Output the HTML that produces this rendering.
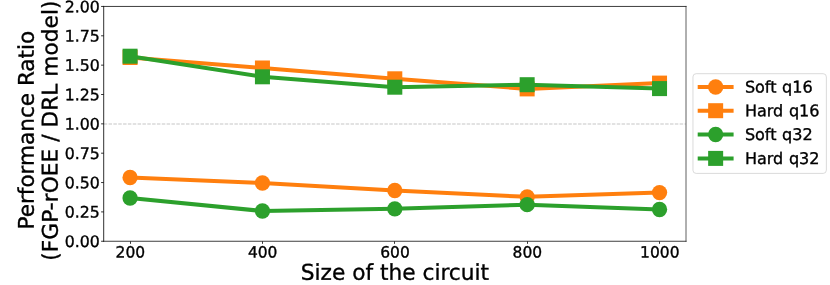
<!DOCTYPE html>
<html><head><meta charset="utf-8"><title>Performance Ratio</title>
<style>html,body{margin:0;padding:0;background:#fff;}svg{display:block;}text{font-family:"DejaVu Sans","Liberation Sans",sans-serif;fill:#000;stroke:#000;stroke-width:0.35px;}</style></head><body>
<svg width="830" height="285" viewBox="0 0 830 285">
<rect width="830" height="285" fill="#fff"/>
<line x1="103.7" x2="686.0" y1="124.0" y2="124.0" stroke="#c6c6c6" stroke-width="1.1" stroke-dasharray="3.5 1.34"/>
<clipPath id="c"><rect x="103.7" y="6.45" width="582.3" height="234.8"/></clipPath>
<g clip-path="url(#c)">
<polyline points="130.1,177.5 262.4,183.0 394.8,190.5 527.2,196.8 659.5,192.6" fill="none" stroke="#ff7f0e" stroke-width="4" stroke-linejoin="round" stroke-linecap="butt"/>
<circle cx="130.07" cy="177.50" r="7.65" fill="#ff7f0e"/>
<circle cx="262.44" cy="183.00" r="7.65" fill="#ff7f0e"/>
<circle cx="394.80" cy="190.50" r="7.65" fill="#ff7f0e"/>
<circle cx="527.16" cy="196.85" r="7.65" fill="#ff7f0e"/>
<circle cx="659.53" cy="192.60" r="7.65" fill="#ff7f0e"/>
<polyline points="130.1,57.5 262.4,68.0 394.8,78.8 527.2,88.9 659.5,83.1" fill="none" stroke="#ff7f0e" stroke-width="4" stroke-linejoin="round" stroke-linecap="butt"/>
<rect x="122.57" y="50.00" width="15.0" height="15.0" fill="#ff7f0e"/>
<rect x="254.94" y="60.50" width="15.0" height="15.0" fill="#ff7f0e"/>
<rect x="387.30" y="71.30" width="15.0" height="15.0" fill="#ff7f0e"/>
<rect x="519.66" y="81.40" width="15.0" height="15.0" fill="#ff7f0e"/>
<rect x="652.03" y="75.60" width="15.0" height="15.0" fill="#ff7f0e"/>
<polyline points="130.1,198.0 262.4,211.0 394.8,208.8 527.2,204.7 659.5,209.5" fill="none" stroke="#2ca02c" stroke-width="4" stroke-linejoin="round" stroke-linecap="butt"/>
<circle cx="130.07" cy="198.00" r="7.65" fill="#2ca02c"/>
<circle cx="262.44" cy="211.00" r="7.65" fill="#2ca02c"/>
<circle cx="394.80" cy="208.80" r="7.65" fill="#2ca02c"/>
<circle cx="527.16" cy="204.70" r="7.65" fill="#2ca02c"/>
<circle cx="659.53" cy="209.50" r="7.65" fill="#2ca02c"/>
<polyline points="130.1,56.2 262.4,76.8 394.8,87.2 527.2,84.7 659.5,88.6" fill="none" stroke="#2ca02c" stroke-width="4" stroke-linejoin="round" stroke-linecap="butt"/>
<rect x="122.57" y="48.70" width="15.0" height="15.0" fill="#2ca02c"/>
<rect x="254.94" y="69.30" width="15.0" height="15.0" fill="#2ca02c"/>
<rect x="387.30" y="79.70" width="15.0" height="15.0" fill="#2ca02c"/>
<rect x="519.66" y="77.20" width="15.0" height="15.0" fill="#2ca02c"/>
<rect x="652.03" y="81.10" width="15.0" height="15.0" fill="#2ca02c"/>
</g>
<line x1="103.7" x2="103.7" y1="5.95" y2="241.75" stroke="#303030" stroke-width="1"/>
<line x1="686.0" x2="686.0" y1="5.95" y2="241.75" stroke="#606060" stroke-width="1"/>
<line x1="103.2" x2="686.5" y1="6.45" y2="6.45" stroke="#282828" stroke-width="0.9"/>
<line x1="103.2" x2="686.5" y1="241.25" y2="241.25" stroke="#282828" stroke-width="0.9"/>
<line x1="101.10000000000001" x2="103.7" y1="6.45" y2="6.45" stroke="#000" stroke-width="0.8"/>
<text transform="translate(99.75 12.15) rotate(0.03)" font-size="15.75" text-anchor="end">2.00</text>
<line x1="101.10000000000001" x2="103.7" y1="35.80" y2="35.80" stroke="#000" stroke-width="0.8"/>
<text transform="translate(99.75 41.50) rotate(0.03)" font-size="15.75" text-anchor="end">1.75</text>
<line x1="101.10000000000001" x2="103.7" y1="65.15" y2="65.15" stroke="#000" stroke-width="0.8"/>
<text transform="translate(99.75 70.85) rotate(0.03)" font-size="15.75" text-anchor="end">1.50</text>
<line x1="101.10000000000001" x2="103.7" y1="94.50" y2="94.50" stroke="#000" stroke-width="0.8"/>
<text transform="translate(99.75 100.20) rotate(0.03)" font-size="15.75" text-anchor="end">1.25</text>
<line x1="101.10000000000001" x2="103.7" y1="123.85" y2="123.85" stroke="#000" stroke-width="0.8"/>
<text transform="translate(99.75 129.55) rotate(0.03)" font-size="15.75" text-anchor="end">1.00</text>
<line x1="101.10000000000001" x2="103.7" y1="153.20" y2="153.20" stroke="#000" stroke-width="0.8"/>
<text transform="translate(99.75 158.90) rotate(0.03)" font-size="15.75" text-anchor="end">0.75</text>
<line x1="101.10000000000001" x2="103.7" y1="182.55" y2="182.55" stroke="#000" stroke-width="0.8"/>
<text transform="translate(99.75 188.25) rotate(0.03)" font-size="15.75" text-anchor="end">0.50</text>
<line x1="101.10000000000001" x2="103.7" y1="211.90" y2="211.90" stroke="#000" stroke-width="0.8"/>
<text transform="translate(99.75 217.60) rotate(0.03)" font-size="15.75" text-anchor="end">0.25</text>
<line x1="101.10000000000001" x2="103.7" y1="241.25" y2="241.25" stroke="#000" stroke-width="0.8"/>
<text transform="translate(99.75 246.95) rotate(0.03)" font-size="15.75" text-anchor="end">0.00</text>
<line x1="130.50" x2="130.50" y1="241.25" y2="243.85" stroke="#222" stroke-width="0.9"/>
<text transform="translate(130.32 257.4) rotate(0.03)" font-size="15.5" text-anchor="middle">200</text>
<line x1="262.50" x2="262.50" y1="241.25" y2="243.85" stroke="#222" stroke-width="0.9"/>
<text transform="translate(262.69 257.4) rotate(0.03)" font-size="15.5" text-anchor="middle">400</text>
<line x1="394.50" x2="394.50" y1="241.25" y2="243.85" stroke="#222" stroke-width="0.9"/>
<text transform="translate(395.05 257.4) rotate(0.03)" font-size="15.5" text-anchor="middle">600</text>
<line x1="527.50" x2="527.50" y1="241.25" y2="243.85" stroke="#222" stroke-width="0.9"/>
<text transform="translate(527.41 257.4) rotate(0.03)" font-size="15.5" text-anchor="middle">800</text>
<line x1="659.50" x2="659.50" y1="241.25" y2="243.85" stroke="#222" stroke-width="0.9"/>
<text transform="translate(659.78 257.4) rotate(0.03)" font-size="15.5" text-anchor="middle">1000</text>
<text transform="translate(394.9 279.75) rotate(0.03)" font-size="21.7" text-anchor="middle">Size of the circuit</text>
<text transform="translate(33.8 130.15) rotate(-90.03)" font-size="21.6" textLength="198.7" lengthAdjust="spacing" text-anchor="middle">Performance Ratio</text>
<text transform="translate(57.6 130.6) rotate(-90.03)" font-size="21.6" textLength="260.2" lengthAdjust="spacing" text-anchor="middle">(FGP-rOEE / DRL model)</text>
<rect x="692.95" y="73.7" width="133.4" height="99.7" rx="3.2" ry="3.2" fill="#fff" fill-opacity="0.8" stroke="#d6d6d6" stroke-width="0.9"/>
<line x1="697.7" x2="733.6" y1="87" y2="87" stroke="#ff7f0e" stroke-width="4"/>
<circle cx="715.65" cy="87" r="7.65" fill="#ff7f0e"/>
<text transform="translate(0 92.2) rotate(0.03)"><tspan x="744.9" font-size="16">Soft </tspan><tspan x="782.0" font-size="16.1">q16</tspan></text>
<line x1="697.7" x2="733.6" y1="110.7" y2="110.7" stroke="#ff7f0e" stroke-width="4"/>
<rect x="708.15" y="103.20" width="15.0" height="15.0" fill="#ff7f0e"/>
<text transform="translate(0 115.9) rotate(0.03)"><tspan x="744.9" font-size="16">Hard </tspan><tspan x="788.9" font-size="16.1">q16</tspan></text>
<line x1="697.7" x2="733.6" y1="134.5" y2="134.5" stroke="#2ca02c" stroke-width="4"/>
<circle cx="715.65" cy="134.5" r="7.65" fill="#2ca02c"/>
<text transform="translate(0 139.7) rotate(0.03)"><tspan x="744.9" font-size="16">Soft </tspan><tspan x="782.0" font-size="16.1">q32</tspan></text>
<line x1="697.7" x2="733.6" y1="158.4" y2="158.4" stroke="#2ca02c" stroke-width="4"/>
<rect x="708.15" y="150.90" width="15.0" height="15.0" fill="#2ca02c"/>
<text transform="translate(0 163.5) rotate(0.03)"><tspan x="744.9" font-size="16">Hard </tspan><tspan x="788.9" font-size="16.1">q32</tspan></text>
</svg></body></html>
